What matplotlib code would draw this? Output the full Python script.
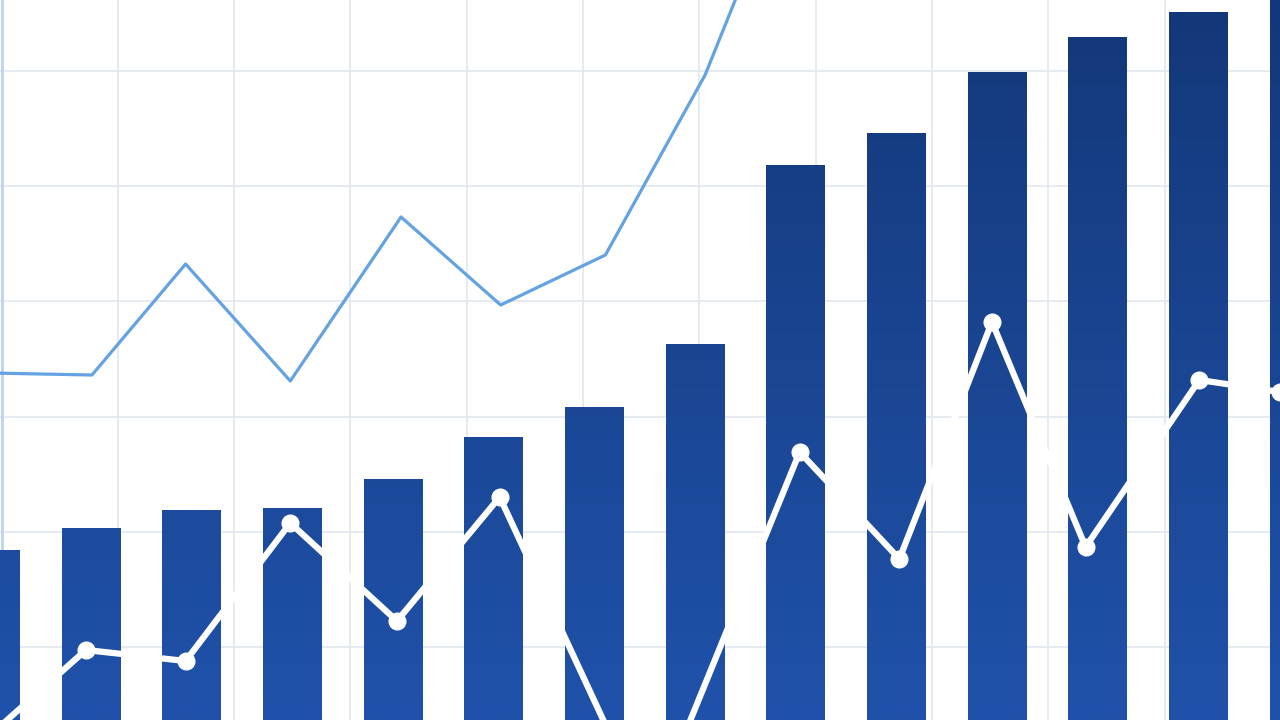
import numpy as np
import matplotlib
matplotlib.use('Agg')
from matplotlib import pyplot as plt
from matplotlib.colors import LinearSegmentedColormap
from matplotlib.ticker import MultipleLocator

# bars (category index, height)
bar_x = list(range(14))
bar_h = [17.0, 19.2, 21.0, 21.2, 24.1, 28.3, 31.3, 37.6, 55.5, 58.7, 64.8, 68.3, 70.8, 76.0]

# white line with dots
white_x = [0.0, 0.95, 1.94, 2.98, 4.04, 5.06, 6.55, 8.04, 9.03, 9.95, 10.88, 12.01, 12.81]
white_y = [-1.5, 7.0, 5.9, 19.7, 9.9, 22.3, -10.0, 26.8, 16.1, 39.8, 17.3, 34.0, 32.8]

# light blue line
blue_x = [0.0, 1.01, 1.94, 2.98, 4.08, 5.07, 6.11, 7.10, 8.10]
blue_y = [34.7, 34.5, 45.6, 33.9, 50.3, 41.5, 46.5, 64.5, 89.5]

fig = plt.figure(figsize=(12.8, 7.2), dpi=100)
fig.patch.set_facecolor('white')

# background grid
bg = fig.add_axes([0, 0, 1, 1])
bg.set_xlim(0, 1280)
bg.set_ylim(720, 0)
bg.xaxis.set_major_locator(MultipleLocator(116.3, offset=1.5))
bg.yaxis.set_major_locator(MultipleLocator(115.2, offset=71))
bg.grid(True, color='#e1e7ef', linewidth=1.2)
bg.tick_params(length=0, labelbottom=False, labelleft=False)
for s in bg.spines.values():
    s.set_visible(False)
bg.axvline(1.5, color='#bcd5f0', linewidth=2)

ax = fig.add_axes([0, 0, 1, 1])
ax.patch.set_alpha(0)
ax.axis('off')

cmap = LinearSegmentedColormap.from_list('bars', ['#133879', '#2052ab'])
grad = np.linspace(0, 1, 256).reshape(-1, 1)
bars = ax.bar(bar_x, bar_h, width=0.58, color='none', edgecolor='none', zorder=2)
for b in bars:
    im = ax.imshow(grad, cmap=cmap, aspect='auto', origin='upper',
                   extent=[0.0964, 12.811, 0, 72], zorder=2)
    im.set_clip_path(b)
ax.set_xlim(0.0964, 12.811)
ax.set_ylim(0, 72)

ax.plot(blue_x, blue_y, color='#64a2e2', linewidth=2.3, zorder=3)
ax.plot(white_x, white_y, color='white', linewidth=4.5, marker='o',
        markersize=12, zorder=4, solid_joinstyle='round')

fig.savefig('out.png', dpi=100)
